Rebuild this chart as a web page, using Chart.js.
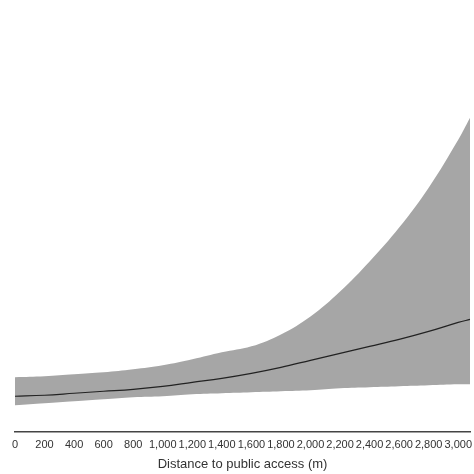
<!DOCTYPE html>
<html><head><script src="https://cdn.jsdelivr.net/npm/chart.js@4"></script>
<style>html,body{margin:0;padding:0;background:#fff}#w{width:474px;height:474px}</style></head>
<body><div id="w"><canvas id="c"></canvas></div>
<script>
const distances=[0,200,400,600,800,1000,1200,1400,1600,1800,2000,2200,2400,2600,2800,3000,3080];
// values read in pixel-height units above the axis
const upperPx=[378,377,375,373,370,366,360,353,347,335,317,292,262,228,188,140,118];
const fitPx=[397,396,394,392,390,387,383,379,374,368,361,354,347,340,332,323,320];
const lowerPx=[406,404,402,400,398,397,395,394,393,392,391,389,388,387,386,385,385];
const toVal=a=>a.map((p,i)=>({x:distances[i],y:433-p}));
const tickLabels=[0,200,400,600,800,1000,1200,1400,1600,1800,2000,2200,2400,2600,2800,3000];
new Chart(document.getElementById('c'),{
type:'line',
data:{datasets:[
{data:toVal(upperPx),borderWidth:0,pointRadius:0,fill:'+1',backgroundColor:'#a6a6a6',tension:0.4,order:2},
{data:toVal(lowerPx),borderWidth:0,pointRadius:0,fill:false,tension:0.4,order:2},
{data:toVal(fitPx),borderColor:'#222',borderWidth:1.2,pointRadius:0,fill:false,tension:0.4,order:1}
]},
options:{animation:false,responsive:true,maintainAspectRatio:false,
layout:{padding:{left:15,right:0,top:0,bottom:2}},
plugins:{legend:{display:false},tooltip:{enabled:false}},
scales:{
x:{type:'linear',min:0,max:3080,
afterBuildTicks:s=>{s.ticks=tickLabels.map(v=>({value:v}));},
grid:{display:false,drawTicks:true,tickLength:4,tickColor:'#444'},
border:{color:'#444',width:1.5},
ticks:{color:'#333',font:{family:'Liberation Sans',size:11},padding:2,maxRotation:0,autoSkip:false},
title:{display:true,text:'Distance to public access (m)',color:'#333',font:{family:'Liberation Sans',size:13},padding:{top:3,bottom:0}}},
y:{display:false,min:0,max:433}
}}});
</script></body></html>
